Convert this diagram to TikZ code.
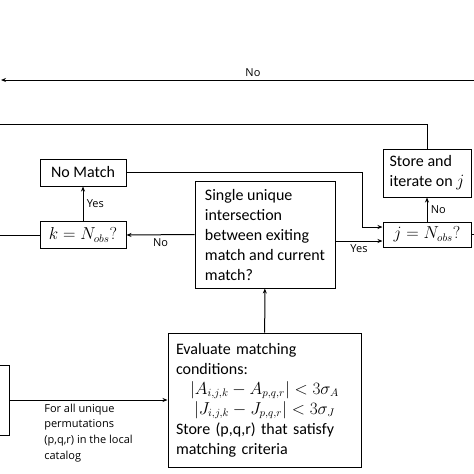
\documentclass[tikz,border=0pt]{standalone}
\usepackage{fontspec}
\setmainfont{Carlito}
\newfontfamily\labelfont{Open Sans}
\usetikzlibrary{arrows.meta}

\begin{document}
\begin{tikzpicture}[x=1pt, y=-1pt, line width=1pt, >={Stealth[length=5pt, width=4pt]},
		box/.style={draw, font=\fontsize{16}{20}\selectfont, inner sep=0pt, minimum width=86pt, minimum height=27pt},
		lbl/.style={font=\labelfont\fontsize{11}{15.7}\selectfont}]
		\useasboundingbox (0, 0) rectangle (474, 474);
		\node[box] (nomatch) at (83, 172.5) {No Match};
		\node[box] (kobs) at (83, 235) {$k = N_{obs}?$};
		\node[box, minimum width=140pt, minimum height=107pt, align=left] (single) at (265, 234.5) {Single unique\\intersection\\between exiting\\match and current\\match?};
		\node[box, minimum width=88pt, minimum height=48pt, align=left] (store) at (427, 173) {Store and\\iterate on $j$};
		\node[box, minimum width=88pt, minimum height=25pt] (jobs) at (427, 234.5) {$j = N_{obs}?$};
		\node[box, minimum width=193pt, minimum height=134pt, text width=177pt, align=left] (eval) at (264.5, 400) {Evaluate matching\\conditions:\\
			\makebox[\linewidth]{$\left|A_{i,j,k} - A_{p,q,r}\right| < 3\sigma_A$}\\
			\makebox[\linewidth]{$\left|J_{i,j,k} - J_{p,q,r}\right| < 3\sigma_J$}\\
			Store (p,q,r) that satisfy\\matching criteria};
		\node[box, minimum width=100pt, minimum height=70pt] (perm) at (-41, 400) {};
		\coordinate (topR) at (480, 80);
		\coordinate (topL) at (1, 80);
		\coordinate (backL) at (-5, 124);
		\coordinate (jobsR) at (480, 234.5);
		\coordinate (kobsL) at (-5, 235);
		\draw[->] (topR) -- node[lbl, pos=0.474, above] {No} (topL);
		\draw (backL) -| (store.north);
		\draw[->] (nomatch.east) -- ++(236, 0) |- ([yshift=7.5pt]jobs.west);
		\draw[->] ([yshift=-6.5pt]single.east) -- node[lbl, below] {Yes} ([yshift=-6.5pt]jobs.west);
		\draw[->] (jobs) -- node[lbl, right] {No} (store);
		\draw (jobs.east) -- (jobsR);
		\draw[->] (single.west) -- node[lbl, below] {No} (kobs.east);
		\draw[->] (kobs) -- node[lbl, right] {Yes} (nomatch);
		\draw (kobsL) -- (kobs.west);
		\draw[->] (eval) -- (single);
		\draw[->] (perm.east) -- node[lbl, below, align=left] {For all unique\\permutations\\(p,q,r) in the local\\catalog} (eval.west);
	\end{tikzpicture}
\end{document}
